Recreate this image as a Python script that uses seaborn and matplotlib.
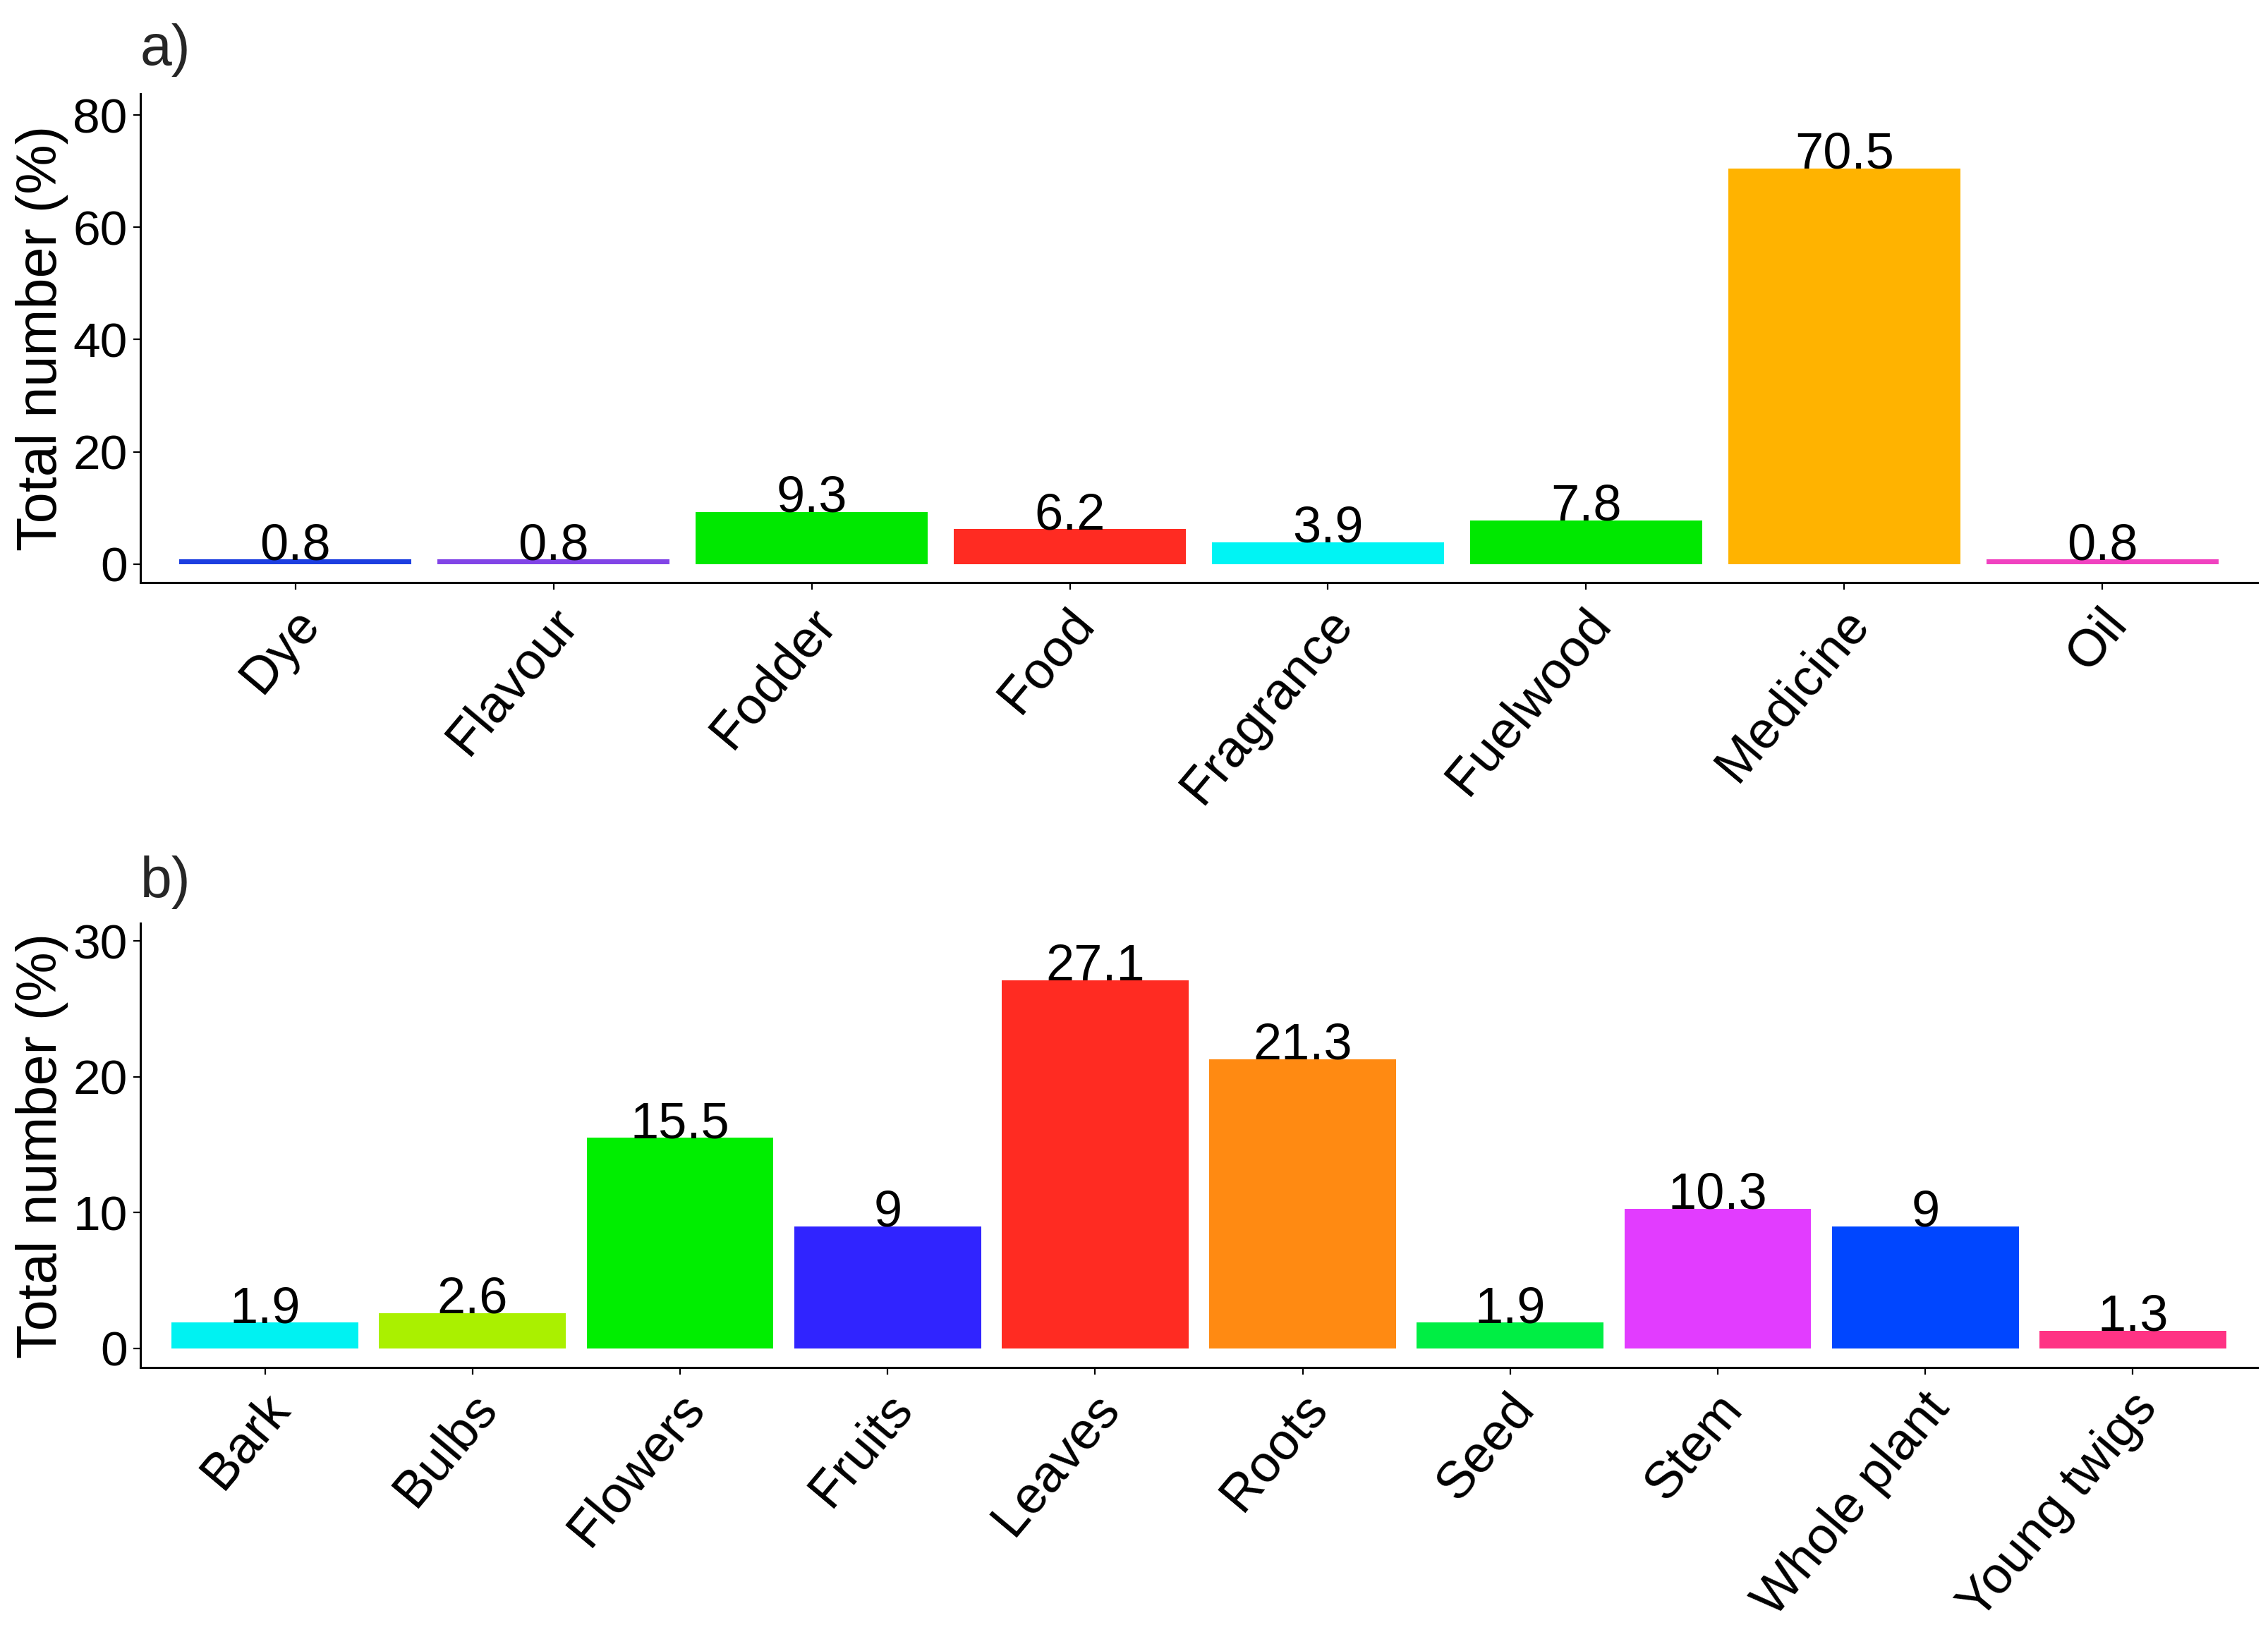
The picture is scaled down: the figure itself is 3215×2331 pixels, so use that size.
import matplotlib
matplotlib.use('Agg')
import matplotlib.pyplot as plt
from matplotlib import font_manager
from matplotlib.transforms import ScaledTranslation
import seaborn as sns

# a) use categories
uses = ["Dye", "Flavour", "Fodder", "Food", "Fragrance", "Fuelwood", "Medicine", "Oil"]
use_pct = [0.8, 0.8, 9.3, 6.2, 3.9, 7.8, 70.5, 0.8]
use_colors = ["#1c3ee0", "#8144e6", "#00e800", "#ff2b22", "#00f4f4",
              "#00e800", "#ffb300", "#f042c0"]

# b) plant parts
parts = ["Bark", "Bulbs", "Flowers", "Fruits", "Leaves", "Roots", "Seed",
         "Stem", "Whole plant", "Young twigs"]
part_pct = [1.9, 2.6, 15.5, 9, 27.1, 21.3, 1.9, 10.3, 9, 1.3]
part_colors = ["#00f2f2", "#aaf000", "#00ee00", "#3024ff", "#ff2b22",
               "#ff8a12", "#00ee44", "#e23cff", "#0046ff", "#ff3384"]

sns.set_theme(style="ticks")
names = {f.name for f in font_manager.fontManager.ttflist}
narrow = "Liberation Sans Narrow" if "Liberation Sans Narrow" in names else "Liberation Sans"
plt.rcParams['font.family'] = ['Liberation Sans', 'DejaVu Sans']

fig = plt.figure(figsize=(16.08, 11.655), dpi=200)
ax_a = fig.add_axes([0.0619, 0.6456, 0.9331, 0.2974])
ax_b = fig.add_axes([0.0619, 0.1682, 0.9331, 0.2702])


def draw_panel(ax, cats, vals, cols, ylim, yticks):
    sns.barplot(x=cats, y=vals, hue=cats, palette=cols, ax=ax, width=0.9,
                saturation=1, legend=False, linewidth=0)
    for cont in ax.containers:
        texts = ax.bar_label(cont, labels=[f"{v:g}" for v in cont.datavalues],
                             padding=0, fontsize=26, family=narrow, color="black")
        for t in texts:
            t.set_va("baseline")
    ax.set_xlim(-0.6, len(cats) - 0.4)
    ax.set_ylim(*ylim)
    ax.set_yticks(yticks)
    ax.set_yticklabels([str(v) for v in yticks], family=narrow, fontsize=25)
    ax.set_xlabel("")
    ax.set_ylabel("Total number (%)", fontsize=28.5, color="black")
    ax.yaxis.set_label_coords(-0.034, 0.5)
    sns.despine(ax=ax)
    for s in ["left", "bottom"]:
        ax.spines[s].set_linewidth(1.1)
        ax.spines[s].set_color("black")
    ax.tick_params(axis="both", length=3.6, width=0.8, color="black", labelcolor="black")
    ax.tick_params(axis="y", pad=3)
    ax.tick_params(axis="x", pad=5, labelsize=26.5)
    offset = ScaledTranslation(-0.025, 0, fig.dpi_scale_trans)
    for lab in ax.get_xticklabels():
        lab.set_rotation(50)
        lab.set_ha("right")
        lab.set_va("top")
        lab.set_rotation_mode("anchor")
        lab.set_transform(lab.get_transform() + offset)
    ax.grid(False)


draw_panel(ax_a, uses, use_pct, use_colors, (-3.3, 83.8), [0, 20, 40, 60, 80])
draw_panel(ax_b, parts, part_pct, part_colors, (-1.4, 31.3), [0, 10, 20, 30])

fig.text(0.0619, 0.9605, "a)", fontsize=29, ha="left", va="baseline")
fig.text(0.0619, 0.4543, "b)", fontsize=29, ha="left", va="baseline")

fig.savefig("out.png", dpi=200, facecolor="white")
